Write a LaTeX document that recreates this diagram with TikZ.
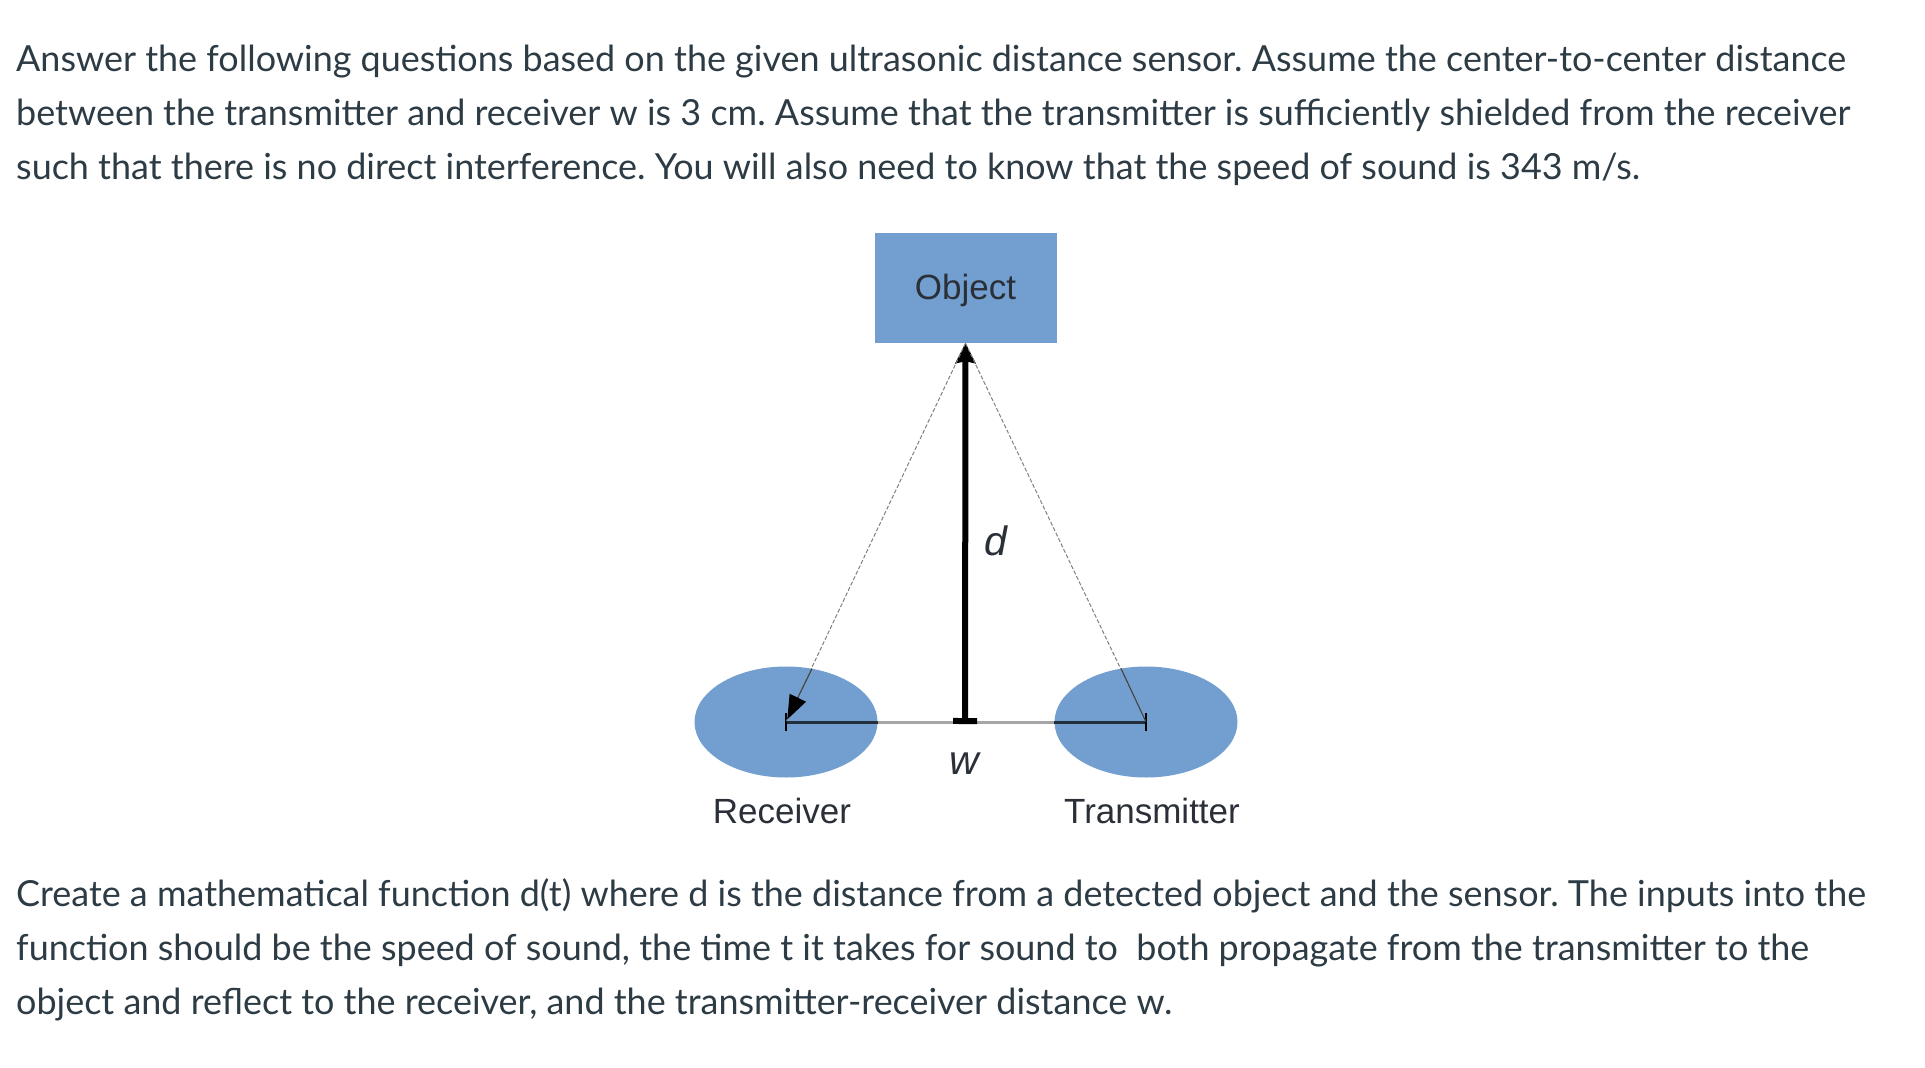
\documentclass[tikz,border=0pt]{standalone}
\usepackage{fontspec}
\setmainfont{Lato}[Ligatures={TeX,Common}]
\newfontfamily\figfont{Liberation Sans}
\usetikzlibrary{arrows.meta,shapes.geometric}
\definecolor{bodytext}{HTML}{2D3B45}
\definecolor{sensorblue}{HTML}{729FCF}
\definecolor{figtext}{HTML}{2A2F38}
\frenchspacing
\tikzset{
  para/.style={anchor=base west,inner sep=0pt,text=bodytext,font=\fontsize{35.93}{36}\selectfont},
  sensor/.style={ellipse,fill=sensorblue,draw=none,minimum width=183pt,minimum height=111pt,inner sep=0pt},
  figlabel/.style={inner sep=0pt,text=figtext,font=\figfont\fontsize{35}{35}\selectfont},
  figmath/.style={inner sep=0pt,text=figtext,font=\figfont\itshape\fontsize{41}{41}\selectfont},
}
\begin{document}
\begin{tikzpicture}
  [x=1pt,y=-1pt]
  \useasboundingbox (0,0) rectangle (1925,1068);
  \node[para] (t1) at (16,71) {Answer the following questions based on the given ultrasonic distance sensor. Assume the center-to-center distance};
  \node[para] (t2) at (16,125) {between the transmitter and receiver w is 3 cm. Assume that the transmitter is sufficiently shielded from the receiver};
  \node[para] (t3) at (16,179) {such that there is no direct interference. You will also need to know that the speed of sound is 343 m/s.};
  \node[para] (t4) at (16,906) {Create a mathematical function d(t) where d is the distance from a detected object and the sensor. The inputs into the};
  \node[para] (t5) at (16,960) {function should be the speed of sound, the time t it takes for sound to\ \ both propagate from the transmitter to the};
  \node[para] (t6) at (16,1014) {object and reflect to the receiver, and the transmitter-receiver distance w.};

  \node[fill=sensorblue,minimum width=182pt,minimum height=110pt,inner sep=0pt,label={[figlabel,yshift=-2pt]center:Object}] (obj) at (965.5,288) {};
  \node[sensor] (rx) at (786,722) {};
  \node[sensor] (tx) at (1146,722) {};
  \coordinate (foot) at (965,724);
  \node[figmath] (dl) at (996,541) {d};
  \node[figmath] (wl) at (964,764) {w};
  \node[figlabel] (rl) at (782,811) {Receiver};
  \node[figlabel] (tl) at (1152,811) {Transmitter};

  % base line
  \draw[gray!70,line width=3pt] (rx.east) -- (tx.west);
  \draw[black!70!sensorblue,line width=3pt] (rx.center) -- (rx.east);
  \draw[black!70!sensorblue,line width=3pt] (tx.west) -- (tx.center);
  \draw[line width=2pt] (rx.center) ++(0,-9) -- ++(0,18);
  \draw[line width=2pt] (tx.center) ++(0,-9) -- ++(0,18);
  % height d
  \draw[line width=6pt,{Bar[width=24pt,length=2pt]}-{Stealth[length=20pt,width=20pt,inset=2pt]}] (foot) -- (obj.south);
  % sound paths
  \draw[gray,line width=1pt,dash pattern=on 4pt off 2pt] (obj.south) -- (tx.center);
  \draw[gray,line width=1pt,dash pattern=on 4pt off 2pt] (obj.south) -- (rx.center);
  \draw[black!75,line width=1pt] (tx.115.4) -- (tx.center);
  \draw[black!75,line width=1pt,shorten >=3pt,-{Stealth[length=24pt,width=18pt,inset=0pt,black]}] (rx.64.6) -- (rx.center);
\end{tikzpicture}
\end{document}
